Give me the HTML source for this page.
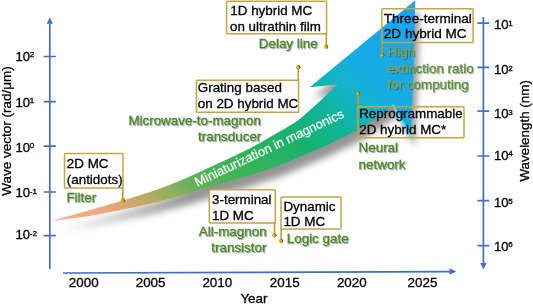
<!DOCTYPE html>
<html lang="en">
<head>
<meta charset="utf-8">
<title>Miniaturization in magnonics</title>
<style>
  html, body { margin: 0; padding: 0; background: #ffffff; }
  body { width: 533px; height: 305px; overflow: hidden; }
  svg { display: block; }
  svg text { font-family: "Liberation Sans", sans-serif; font-size: 13.4px; fill: #000; stroke: #000; stroke-width: 0.3px; }
  .g { fill: #48852a; stroke: #48852a; filter: url(#tshadow); }
  .hg { fill: url(#hgrad); stroke: url(#hgrad); }
  .wf { fill: #ffffff !important; }
  .box { fill: none; stroke: #c8a444; stroke-width: 1.5; }
  .lead { stroke: #c79a22; stroke-width: 1.6; fill: none; }
  .dot { fill: url(#dotg); }
  .ax { stroke: #3f6fc6; stroke-width: 1.7; fill: none; }
  .axf { fill: #3f6fc6; }
  .sup { font-size: 8.1px; }
  svg text.tl { font-size: 13.1px; }
</style>
</head>
<body>
<svg width="533" height="305" viewBox="0 0 533 305">
  <defs>
    <linearGradient id="ag" gradientUnits="userSpaceOnUse" x1="53" y1="221" x2="337" y2="-63">
      <stop offset="0" stop-color="#f8ad8c"/>
      <stop offset="0.088" stop-color="#f4a882"/>
      <stop offset="0.151" stop-color="#dca672"/>
      <stop offset="0.211" stop-color="#b6aa64"/>
      <stop offset="0.259" stop-color="#8eb05e"/>
      <stop offset="0.305" stop-color="#68b258"/>
      <stop offset="0.366" stop-color="#4cb458"/>
      <stop offset="0.45" stop-color="#34b456"/>
      <stop offset="0.577" stop-color="#16b26c"/>
      <stop offset="0.68" stop-color="#10b49c"/>
      <stop offset="0.757" stop-color="#14b4ce"/>
      <stop offset="0.80" stop-color="#16aee0"/>
      <stop offset="0.88" stop-color="#18a9ea"/>
      <stop offset="1" stop-color="#1aa4ee"/>
    </linearGradient>
    <linearGradient id="hgrad" gradientUnits="userSpaceOnUse" x1="380" y1="0" x2="480" y2="0">
      <stop offset="0" stop-color="#8c9c48"/>
      <stop offset="0.335" stop-color="#8c9c48"/>
      <stop offset="0.345" stop-color="#5b8f38"/>
      <stop offset="1" stop-color="#5b8f38"/>
    </linearGradient>
    <linearGradient id="smg" gradientUnits="userSpaceOnUse" x1="60" y1="0" x2="190" y2="0">
      <stop offset="0" stop-color="#fff" stop-opacity="0.15"/>
      <stop offset="1" stop-color="#fff" stop-opacity="1"/>
    </linearGradient>
    <mask id="smask" maskUnits="userSpaceOnUse" x="0" y="0" width="533" height="305">
      <rect x="0" y="0" width="533" height="305" fill="url(#smg)"/>
    </mask>
    <radialGradient id="dotg" cx="0.3" cy="0.55" r="0.8">
      <stop offset="0" stop-color="#f4b800"/>
      <stop offset="0.45" stop-color="#dc9c00"/>
      <stop offset="0.8" stop-color="#6a4500"/>
      <stop offset="1" stop-color="#2a1a00"/>
    </radialGradient>
    <filter id="ashadow" x="-10%" y="-10%" width="125%" height="125%">
      <feGaussianBlur in="SourceAlpha" stdDeviation="3.8"/>
      <feOffset dx="3.5" dy="9.5" result="b"/>
      <feComponentTransfer><feFuncA type="linear" slope="0.42"/></feComponentTransfer>
    </filter>
    <filter id="tshadow" x="-5%" y="-20%" width="110%" height="150%">
      <feGaussianBlur in="SourceAlpha" stdDeviation="0.7"/>
      <feOffset dx="0.9" dy="0.9"/>
      <feComponentTransfer><feFuncA type="linear" slope="0.32"/></feComponentTransfer>
      <feMerge><feMergeNode/><feMergeNode in="SourceGraphic"/></feMerge>
    </filter>
    <path id="arrow" d="M52.3,220.9 C59.2,218.9 82.0,212.5 93.8,209.1 C105.6,205.7 113.7,203.4 123.0,200.6 C132.3,197.8 141.2,195.1 149.9,192.1 C158.6,189.1 168.4,185.4 175.0,182.8 C181.6,180.2 184.0,179.0 189.7,176.5 C195.4,174.0 202.6,170.7 209.3,167.6 C216.0,164.5 223.3,161.2 230.0,158.0 C236.7,154.8 243.1,151.8 249.7,148.4 C256.2,145.0 262.6,141.3 269.3,137.5 C276.0,133.7 284.9,128.6 290.0,125.5 C295.1,122.4 296.5,121.5 299.8,119.0 C303.1,116.5 306.4,113.2 309.7,110.3 C313.0,107.4 316.2,104.5 319.5,101.5 C322.8,98.5 326.2,94.9 329.3,92.0 C332.4,89.1 336.7,85.5 338.2,84.2 L309.7,87.3 L415.3,0.3 Q413.8,70 410.9,137 L393.2,105.4 C391.0,107.3 385.3,111.6 381.2,114.4 C377.1,117.2 372.1,120.4 368.1,123.0 C364.1,125.6 360.8,127.8 357.0,130.0 C353.2,132.2 348.9,134.3 345.6,136.0 C342.3,137.7 340.4,138.3 337.0,140.0 C333.6,141.7 330.4,143.6 325.0,146.0 C319.6,148.4 311.4,151.7 304.7,154.5 C298.0,157.3 290.9,160.6 285.0,163.0 C279.1,165.4 275.1,166.8 269.3,168.8 C263.5,170.8 256.6,173.2 250.0,175.2 C243.4,177.2 236.8,179.0 230.0,181.0 C223.2,183.0 216.0,185.0 209.3,187.0 C202.6,189.0 195.4,191.2 189.7,192.9 C184.0,194.6 181.6,195.4 175.0,197.2 C168.4,199.0 158.6,201.7 149.9,203.8 C141.2,205.9 132.3,207.7 123.0,209.6 C113.7,211.5 105.6,213.3 93.8,215.2 C82.0,217.1 59.2,219.9 52.3,220.9 Z"/>
  </defs>

  <rect x="0" y="0" width="533" height="305" fill="#ffffff"/>

  <!-- big arrow with soft shadow -->
  <g mask="url(#smask)"><use href="#arrow" fill="#000" filter="url(#ashadow)"/></g>
  <use href="#arrow" fill="url(#ag)"/>
  <path d="M392.8,104.6 L410.9,136.9" stroke="#40e8f6" stroke-width="1.9" fill="none"/>

  <!-- left axis -->
  <path class="ax" d="M49.8,269 V22"/>
  <path class="axf" d="M49.8,17.4 L52.9,23.8 L46.7,23.8 Z"/>
  <path class="ax" d="M43.6,56.5 H55.9 M43.6,101.6 H55.9 M43.6,146.1 H55.9 M43.6,192 H55.9 M43.6,235.7 H55.9"/>
  <text class="tl" x="15.5" y="60.9">10<tspan class="sup" dx="-0.3" dy="-3.6">2</tspan></text>
  <text class="tl" x="15.5" y="106.8">10<tspan class="sup" dx="-0.3" dy="-3.6">1</tspan></text>
  <text class="tl" x="15.5" y="151.9">10<tspan class="sup" dx="-0.3" dy="-3.6">0</tspan></text>
  <text class="tl" x="15.5" y="196.7">10<tspan class="sup" dx="-0.3" dy="-2.8">-1</tspan></text>
  <text class="tl" x="15.5" y="239.4">10<tspan class="sup" dx="-0.3" dy="-3.1">-2</tspan></text>
  <text transform="translate(10.8,195.8) rotate(-90)" x="0" y="0" style="font-size:13.5px">Wave vector (rad/μm)</text>

  <!-- bottom axis -->
  <path class="ax" d="M63,273 L450,271.6"/>
  <path class="axf" d="M456.2,271.5 L449.6,274.7 L449.6,268.3 Z"/>
  <text x="68.8" y="287.2">2000</text>
  <text x="135.7" y="287.2">2005</text>
  <text x="202.4" y="287.2">2010</text>
  <text x="269.8" y="287.2">2015</text>
  <text x="336.9" y="287.2">2020</text>
  <text x="407.6" y="287.2">2025</text>
  <text x="240.4" y="303.4">Year</text>

  <!-- right axis -->
  <path class="ax" d="M483.4,17 V264"/>
  <path class="axf" d="M483.4,269.5 L480.2,262.9 L486.6,262.9 Z"/>
  <path class="ax" d="M477.4,23.1 H489.3 M477.4,67.3 H489.3 M477.4,111.1 H489.3 M477.4,156 H489.3 M477.4,200.7 H489.3 M477.4,245.7 H489.3"/>
  <text class="tl" x="493.9" y="29.3">10<tspan class="sup" dx="-0.3" dy="-3.7">1</tspan></text>
  <text class="tl" x="493.9" y="74.2">10<tspan class="sup" dx="-0.3" dy="-2.9">2</tspan></text>
  <text class="tl" x="493.9" y="117.6">10<tspan class="sup" dx="-0.3" dy="-3.0">3</tspan></text>
  <text class="tl" x="493.9" y="159.9">10<tspan class="sup" dx="-0.3" dy="-4.1">4</tspan></text>
  <text class="tl" x="493.9" y="206.6">10<tspan class="sup" dx="-0.3" dy="-3.1">5</tspan></text>
  <text class="tl" x="493.9" y="250.6">10<tspan class="sup" dx="-0.3" dy="-3.5">6</tspan></text>
  <text transform="translate(528.6,181.6) rotate(-90)" x="0" y="0">Wavelength (nm)</text>

  <!-- arrow caption -->
  <text transform="translate(197.3,186.7) rotate(-25.3)" x="0" y="0" style="fill:#ffffff;stroke:#ffffff;stroke-width:0.2px;font-size:12.95px">Miniaturization in magnonics</text>

  <!-- box 1 -->
  <rect class="box wf" rx="0.8" x="226.6" y="1.2" width="100" height="32.6"/>
  <path class="lead" d="M326.3,33 V46.5"/>
  <circle class="dot" cx="326.2" cy="46.8" r="2.1"/>
  <text x="230.3" y="15.3">1D hybrid MC</text>
  <text x="230" y="30.9">on ultrathin film</text>
  <text class="g" x="258.8" y="48.2">Delay line</text>

  <!-- box 2 -->
  <rect class="box wf" rx="0.8" x="196.4" y="80.3" width="102.2" height="32"/>
  <path class="lead" d="M298.3,81 V67.5"/>
  <circle class="dot" cx="298.3" cy="67.2" r="2.1"/>
  <text x="197.8" y="92.4">Grating based</text>
  <text x="197.8" y="108.1">on 2D hybrid MC</text>
  <text class="g" x="128.4" y="125.4">Microwave-to-magnon</text>
  <text class="g" x="261.3" y="141.1" text-anchor="end">transducer</text>

  <!-- box 3 -->
  <rect class="box" rx="0.8" x="381.9" y="8.8" width="91.2" height="33.8"/>
  <path class="lead" d="M382,42 V55.5"/>
  <circle class="dot" cx="382.3" cy="55.0" r="2.1"/>
  <text x="383.8" y="22.8" style="font-size:13.55px">Three-terminal</text>
  <text x="383.8" y="38.2" style="font-size:13.55px">2D hybrid MC</text>
  <text class="g hg" x="387.5" y="55.9">High</text>
  <text class="g hg" x="387.3" y="72.7">extinction ratio</text>
  <text class="g hg" x="387.5" y="89.0">for computing</text>

  <!-- box 4 -->
  <rect class="box" rx="0.8" x="357.8" y="106.8" width="106.2" height="31"/>
  <path class="lead" d="M358.1,108 V94"/>
  <circle class="dot" cx="358.1" cy="93.5" r="2.1"/>
  <text x="359.2" y="118.4">Reprogrammable</text>
  <text x="359.2" y="134.0">2D hybrid MC*</text>
  <text class="g" x="358.6" y="152.3">Neural</text>
  <text class="g" x="358.6" y="168.5">network</text>

  <!-- box 5 -->
  <rect class="box wf" rx="0.8" x="64.5" y="153.5" width="58.5" height="34.6"/>
  <path class="lead" d="M122.8,187 V200.3"/>
  <circle class="dot" cx="122.8" cy="200.6" r="2.1"/>
  <text x="66.8" y="167.5">2D MC</text>
  <text x="66.8" y="183.6">(antidots)</text>
  <text class="g" x="66.4" y="201.8">Filter</text>

  <!-- box 6 -->
  <rect class="box wf" rx="0.8" x="209.3" y="189.7" width="66" height="33.2"/>
  <path class="lead" d="M274.5,222 V235"/>
  <circle class="dot" cx="274.4" cy="235.3" r="2.1"/>
  <text x="212" y="204.1">3-terminal</text>
  <text x="212" y="220">1D MC</text>
  <text class="g" x="266.6" y="236.2" text-anchor="end">All-magnon</text>
  <text class="g" x="266.4" y="252.3" text-anchor="end">transistor</text>

  <!-- box 7 -->
  <rect class="box wf" rx="0.8" x="281.0" y="196.9" width="60" height="32"/>
  <path class="lead" d="M281.2,228 V240.6"/>
  <circle class="dot" cx="281.0" cy="241.1" r="2.1"/>
  <text x="283.4" y="210.5">Dynamic</text>
  <text x="283.4" y="225.9">1D MC</text>
  <text class="g" x="286.8" y="242.7">Logic gate</text>
</svg>
</body>
</html>
